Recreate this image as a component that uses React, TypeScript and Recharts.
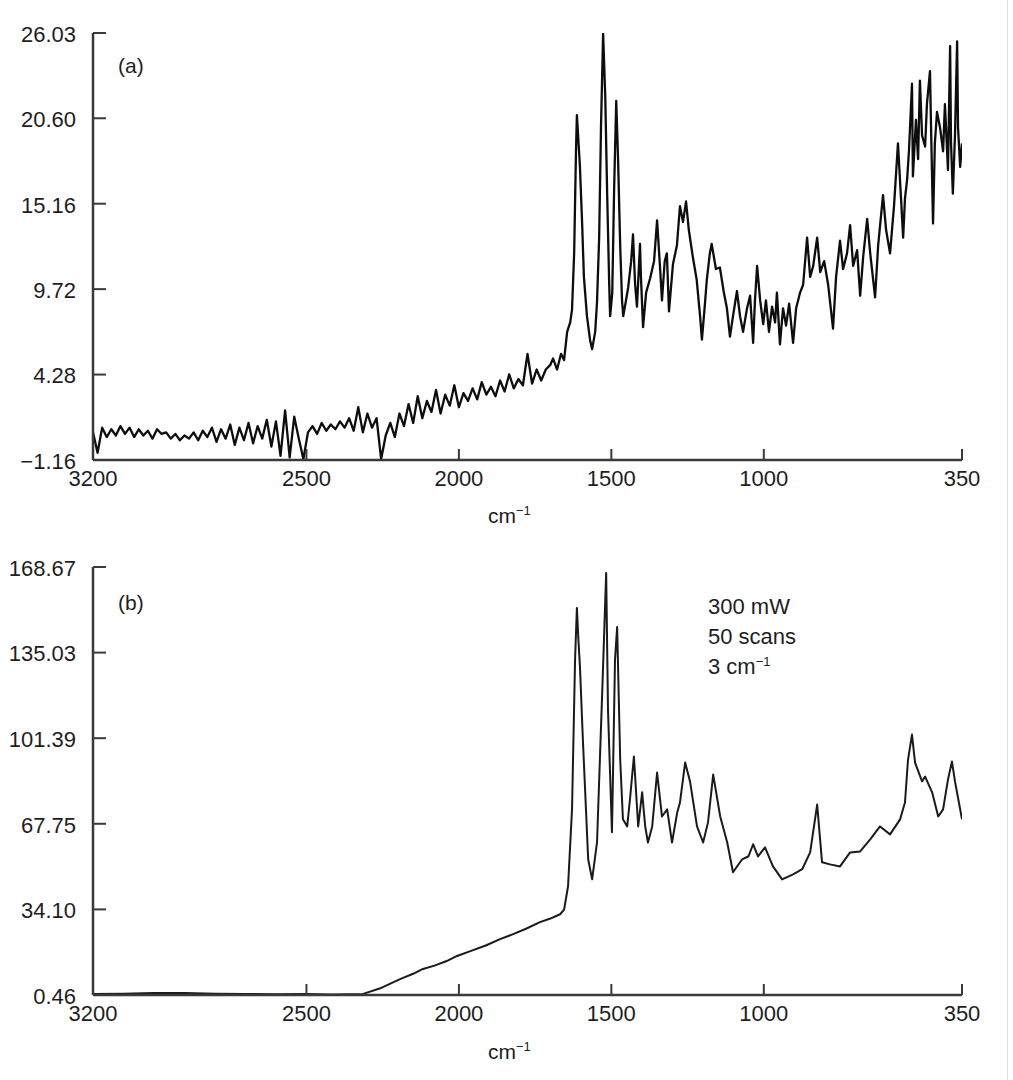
import React from 'react';
import { LineChart, Line, XAxis, YAxis } from 'recharts';

// wavenumber (cm-1) ticks shared by both panels
const WAVENUMBER_TICKS = [3200, 2500, 2000, 1500, 1000, 350];
const TICKS_A = [-1.16, 4.28, 9.72, 15.16, 20.6, 26.03];
const TICKS_B = [0.46, 34.1, 67.75, 101.39, 135.03, 168.67];

// (a) baseline part, 3200 -> 1700 cm-1  [wavenumber, intensity]
const baselineA: [number, number][] = [
  [3200, 0.6], [3185, -0.7], [3170, 0.9], [3155, 0.3], [3140, 0.8], [3125, 0.4], [3110, 1.0], [3095, 0.5], [3080, 0.9], [3065, 0.3],
  [3050, 0.8], [3035, 0.4], [3020, 0.7], [3005, 0.2], [2990, 0.8], [2975, 0.5], [2960, 0.6], [2945, 0.2], [2930, 0.5], [2915, 0.1],
  [2900, 0.4], [2885, 0.2], [2870, 0.6], [2855, 0.1], [2840, 0.7], [2825, 0.3], [2810, 0.9], [2795, 0.0], [2780, 0.8], [2765, 0.2],
  [2750, 1.1], [2735, -0.2], [2720, 0.9], [2705, 0.1], [2690, 1.2], [2675, -0.1], [2660, 1.0], [2645, 0.2], [2630, 1.4], [2615, -0.3],
  [2600, 1.3], [2585, -0.9], [2570, 2.0], [2555, -1.0], [2540, 1.6], [2525, 0.2], [2510, -1.1], [2495, 0.6], [2480, 1.0], [2465, 0.5],
  [2450, 1.2], [2435, 0.7], [2420, 1.1], [2405, 0.8], [2390, 1.3], [2375, 0.9], [2360, 1.5], [2345, 0.7], [2330, 2.2], [2315, 0.6],
  [2300, 1.8], [2285, 0.9], [2270, 1.5], [2255, -1.1], [2240, 0.4], [2225, 1.2], [2210, 0.3], [2195, 1.8], [2180, 1.0], [2165, 2.4],
  [2150, 1.2], [2135, 2.9], [2120, 1.5], [2105, 2.6], [2090, 1.9], [2075, 3.3], [2060, 1.8], [2045, 3.0], [2030, 2.3], [2015, 3.6],
  [2000, 2.2], [1985, 3.1], [1970, 2.6], [1955, 3.4], [1940, 2.7], [1925, 3.8], [1910, 3.0], [1895, 3.5], [1880, 2.9], [1865, 3.9],
  [1850, 3.2], [1835, 4.3], [1820, 3.4], [1805, 4.0], [1790, 3.6], [1775, 5.6], [1760, 3.7], [1745, 4.6], [1730, 3.9], [1715, 4.6],
  [1700, 4.9],
];

// (a) band region, 1700 -> 350 cm-1
const bandsA: [number, number][] = [
  [1691, 5.3], [1678, 4.6], [1665, 5.6], [1655, 5.2], [1645, 7.0], [1635, 7.6], [1629, 8.4], [1622, 12.0], [1616, 18.5], [1613, 20.8],
  [1609, 19.5], [1603, 17.5], [1596, 14.0], [1590, 10.5], [1580, 8.0], [1570, 6.5], [1563, 5.9], [1553, 7.0], [1547, 8.9], [1540, 13.0],
  [1534, 20.0], [1527, 26.0], [1520, 22.0], [1514, 16.0], [1507, 10.0], [1504, 8.0], [1497, 9.5], [1491, 16.0], [1484, 21.7], [1478, 18.0],
  [1471, 12.5], [1465, 9.0], [1461, 8.0], [1452, 9.0], [1445, 9.8], [1435, 11.5], [1429, 13.2], [1422, 10.0], [1416, 8.6], [1406, 12.6],
  [1403, 10.5], [1396, 7.3], [1386, 9.5], [1373, 10.4], [1360, 11.5], [1350, 14.1], [1340, 11.0], [1334, 9.0], [1325, 11.5], [1318, 12.0],
  [1311, 8.3], [1298, 11.3], [1285, 12.5], [1275, 15.0], [1265, 14.0], [1255, 15.3], [1246, 13.5], [1233, 11.8], [1220, 10.3], [1209, 8.0],
  [1203, 6.5], [1193, 8.8], [1187, 10.3], [1177, 12.0], [1171, 12.6], [1157, 11.0], [1144, 11.1], [1131, 9.5], [1121, 8.5], [1111, 6.7],
  [1101, 8.0], [1088, 9.6], [1078, 8.0], [1068, 7.0], [1055, 8.5], [1045, 9.3], [1035, 6.3], [1029, 9.0], [1022, 11.2], [1012, 9.0],
  [1002, 7.5], [993, 9.0], [983, 7.0], [973, 8.6], [963, 7.6], [957, 9.5], [947, 6.2], [937, 8.5], [927, 7.4], [917, 8.8],
  [904, 6.3], [894, 8.5], [881, 9.5], [871, 10.0], [858, 13.0], [848, 10.5], [838, 11.2], [825, 13.0], [815, 10.8], [802, 11.5],
  [789, 10.0], [773, 7.2], [763, 10.5], [750, 12.8], [740, 11.0], [727, 12.0], [717, 13.8], [707, 11.2], [694, 12.2], [684, 9.3],
  [674, 11.8], [661, 14.2], [651, 12.0], [635, 9.2], [625, 12.5], [609, 15.7], [599, 13.5], [586, 12.0], [573, 15.0], [560, 19.0],
  [550, 15.5], [543, 13.0], [537, 15.5], [530, 16.7], [524, 18.5], [514, 22.8], [511, 16.9], [501, 20.5], [494, 18.0], [488, 23.0],
  [481, 19.5], [471, 18.8], [465, 21.5], [455, 23.6], [452, 20.5], [445, 13.9], [439, 19.0], [432, 21.0], [422, 20.0], [412, 18.5],
  [406, 21.5], [396, 17.3], [389, 25.2], [386, 19.0], [380, 15.8], [373, 19.5], [366, 25.5], [363, 20.0], [356, 17.5], [350, 19.0],
];

// (b) 300 mW, 50 scans
const baselineB: [number, number][] = [
  [3200, 0.9], [3100, 1.0], [3000, 1.2], [2900, 1.2], [2800, 1.0], [2700, 0.9], [2600, 0.8], [2500, 0.9], [2420, 0.7], [2360, 0.8],
  [2314, 0.9], [2260, 3.0], [2193, 6.7], [2150, 8.8], [2118, 10.7], [2080, 12.0], [2040, 13.8], [2006, 15.8], [1960, 17.8], [1910, 20.0],
  [1865, 22.4], [1820, 24.5], [1780, 26.5], [1734, 29.1], [1700, 30.5], [1668, 32.2], [1655, 34.0],
];

const bandsB: [number, number][] = [
  [1642, 43.2], [1629, 73.4], [1619, 132.2], [1613, 152.6], [1608, 140.0], [1603, 129.5], [1593, 99.7], [1576, 53.8], [1563, 45.9], [1547, 60.4],
  [1530, 119.3], [1517, 166.3], [1511, 112.6], [1498, 64.4], [1488, 132.2], [1481, 145.1], [1471, 93.0], [1462, 69.5], [1448, 66.7], [1439, 77.3],
  [1426, 94.2], [1412, 66.7], [1399, 80.1], [1389, 66.7], [1380, 60.4], [1366, 66.7], [1350, 87.9], [1334, 70.6], [1317, 73.4], [1301, 60.4],
  [1284, 72.2], [1275, 76.1], [1258, 91.8], [1242, 84.4], [1219, 66.7], [1199, 60.4], [1183, 68.3], [1166, 87.1], [1143, 70.6], [1120, 60.4],
  [1101, 48.7], [1071, 53.8], [1050, 55.0], [1035, 59.7], [1019, 54.9], [996, 58.5], [970, 51.0], [940, 45.9], [904, 47.9], [874, 49.9],
  [848, 56.5], [825, 75.3], [809, 52.6], [783, 51.8], [750, 51.0], [717, 56.5], [684, 56.9], [651, 61.6], [619, 66.7], [586, 63.6],
  [553, 69.5], [537, 76.1], [527, 93.0], [514, 102.8], [504, 91.8], [481, 84.4], [471, 86.3], [448, 80.1], [428, 70.6], [412, 73.4],
  [396, 85.1], [383, 92.2], [373, 84.4], [350, 69.5],
];

const FONT = '"Liberation Sans", Arial, Helvetica, sans-serif';
const AXIS = '#3a3a3a';
const TEXT = '#1e1e1e';

const toRows = (...parts: [number, number][][]) =>
  parts.flat().map(([w, v]) => ({ w, v }));

const fmt = (v: number) => (v < 0 ? '\u2212' + Math.abs(v).toFixed(2) : v.toFixed(2));

const XTick = (props: any) => {
  const { x, y, payload } = props;
  return (
    <g>
      <line x1={x} y1={y} x2={x} y2={y - 11} stroke={AXIS} strokeWidth={2} />
      <text x={x} y={y + 26} textAnchor="middle" fill={TEXT} fontSize={22} fontFamily={FONT}>
        {payload.value}
      </text>
    </g>
  );
};

const YTick = (props: any) => {
  const { x, y, payload } = props;
  return (
    <g>
      <line x1={x} y1={y} x2={x + 13} y2={y} stroke={AXIS} strokeWidth={2} />
      <text x={x - 17} y={y} dy="0.4em" textAnchor="end" fill={TEXT} fontSize={22} fontFamily={FONT}>
        {fmt(payload.value)}
      </text>
    </g>
  );
};

const Panel = ({ rows, domain, ticks, marginTop, marginBottom, stroke, strokeWidth }: any) => (
  <LineChart
    width={1013}
    height={540}
    data={rows}
    margin={{ top: marginTop, right: 51, bottom: marginBottom, left: 0 }}
  >
    <XAxis
      dataKey="w"
      type="number"
      domain={[350, 3200]}
      reversed
      ticks={WAVENUMBER_TICKS}
      interval={0}
      height={30}
      tickSize={0}
      tickMargin={0}
      tick={<XTick />}
      axisLine={{ stroke: AXIS, strokeWidth: 2.5 }}
      allowDataOverflow
    />
    <YAxis
      type="number"
      domain={domain}
      ticks={ticks}
      interval={0}
      width={93}
      tickSize={0}
      tickMargin={0}
      tick={<YTick />}
      axisLine={{ stroke: AXIS, strokeWidth: 2.5 }}
      allowDataOverflow
    />
    <Line
      type="linear"
      dataKey="v"
      stroke={stroke}
      strokeWidth={strokeWidth}
      strokeLinejoin="round"
      dot={false}
      isAnimationActive={false}
    />
  </LineChart>
);

const unit = (top: number) => (
  <div style={{ position: 'absolute', left: 488, top, fontSize: 21, fontFamily: FONT, color: TEXT }}>
    cm<sup style={{ fontSize: 13, verticalAlign: 'super', lineHeight: 0 }}>{'\u22121'}</sup>
  </div>
);

export default function App() {
  const rowsA = toRows(baselineA, bandsA);
  const rowsB = toRows(baselineB, bandsB);
  return (
    <div style={{ position: 'absolute', left: 0, top: 0, width: 1013, height: 1080, background: '#fff', fontFamily: FONT }}>
      <div style={{ position: 'absolute', left: 0, top: 0 }}>
        <Panel rows={rowsA} domain={[-1.16, 26.03]} ticks={TICKS_A} marginTop={33} marginBottom={50} stroke="#0d0d0d" strokeWidth={2.3} />
      </div>
      <div style={{ position: 'absolute', left: 0, top: 534 }}>
        <Panel rows={rowsB} domain={[0.46, 168.67]} ticks={TICKS_B} marginTop={33} marginBottom={49} stroke="#1a1a1a" strokeWidth={2} />
      </div>
      {unit(504)}
      {unit(1040)}
      <div style={{ position: 'absolute', left: 118, top: 54, fontSize: 21, color: TEXT }}>(a)</div>
      <div style={{ position: 'absolute', left: 118, top: 591, fontSize: 21, color: TEXT }}>(b)</div>
      <div style={{ position: 'absolute', left: 708, top: 592, fontSize: 22, lineHeight: '30px', color: TEXT }}>
        <div>300 mW</div>
        <div>50 scans</div>
        <div>
          3 cm<sup style={{ fontSize: 13, verticalAlign: 'super', lineHeight: 0 }}>{'\u22121'}</sup>
        </div>
      </div>
      <div style={{ position: 'absolute', left: 1007, top: 0, width: 1, height: 1080, background: '#e2e2e2' }} />
    </div>
  );
}
